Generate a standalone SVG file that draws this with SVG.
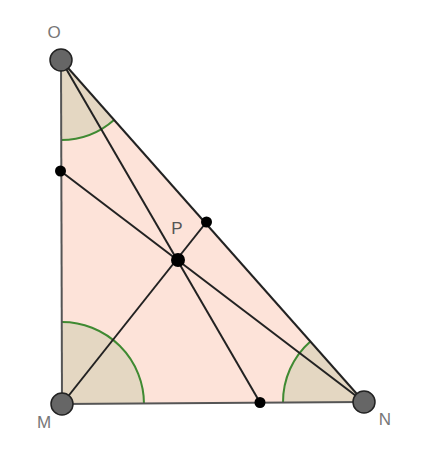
<svg xmlns="http://www.w3.org/2000/svg" width="437" height="469" viewBox="0 0 437 469">
<style>
.tri{fill:#fde3d9;stroke:none}
.sector{fill:#e4d7c2;stroke:none}
.arc{fill:none;stroke:#3f8a32;stroke-width:2}
.edge{stroke:#555;stroke-width:2;fill:none}
.edgeD{stroke:#222;stroke-width:2;fill:none}
.ln{stroke:#222;stroke-width:2}
.vtx{fill:#666;stroke:#222;stroke-width:1.5}
.pt{fill:#000}
.lbl{font-family:"Liberation Sans",Arial,sans-serif;font-size:17px;fill:#777}
.lblP{font-family:"Liberation Sans",Arial,sans-serif;font-size:17px;fill:#555}
</style>
<rect width="437" height="469" fill="#fff"/>
<polygon class="tri" points="61,60 62,404 364,402"/>
<g id="angles">
<path class="sector" d="M61,60 L61.2,140 A80,80 0 0 0 114,120 Z"/>
<path class="arc" d="M61.2,140 A80,80 0 0 0 114,120"/>
<path class="sector" d="M62,404 L61.8,322 A82,82 0 0 1 144,404 Z"/>
<path class="arc" d="M61.8,322 A82,82 0 0 1 144,404"/>
<path class="sector" d="M364,402 L283,402.5 A81,81 0 0 1 310.3,341.4 Z"/>
<path class="arc" d="M283,402.5 A81,81 0 0 1 310.3,341.4"/>
</g>
<g id="connectors">
<line class="edge" x1="61" y1="60" x2="62" y2="404"/>
<line class="edge" x1="62" y1="404" x2="364" y2="402"/>
<line class="edgeD" x1="61" y1="60" x2="364" y2="402"/>
<line class="ln" x1="61" y1="60" x2="260" y2="402.5"/>
<line class="ln" x1="62" y1="404" x2="206.5" y2="222"/>
<line class="ln" x1="364" y1="402" x2="60.5" y2="171"/>
</g>
<g id="node-O"><circle class="vtx" cx="61" cy="60" r="11"/><text class="lbl" x="54" y="38" text-anchor="middle">O</text></g>
<g id="node-M"><circle class="vtx" cx="62" cy="404" r="11"/><text class="lbl" x="44" y="428" text-anchor="middle">M</text></g>
<g id="node-N"><circle class="vtx" cx="364" cy="402" r="11"/><text class="lbl" x="385" y="425" text-anchor="middle">N</text></g>
<g id="node-P"><circle class="pt" cx="178" cy="260" r="7"/><text class="lblP" x="177" y="234" text-anchor="middle">P</text></g>
<g id="node-F1"><circle class="pt" cx="60.5" cy="171" r="5.5"/></g>
<g id="node-F2"><circle class="pt" cx="206.5" cy="222" r="5.5"/></g>
<g id="node-F3"><circle class="pt" cx="260" cy="402.5" r="5.5"/></g>
</svg>
